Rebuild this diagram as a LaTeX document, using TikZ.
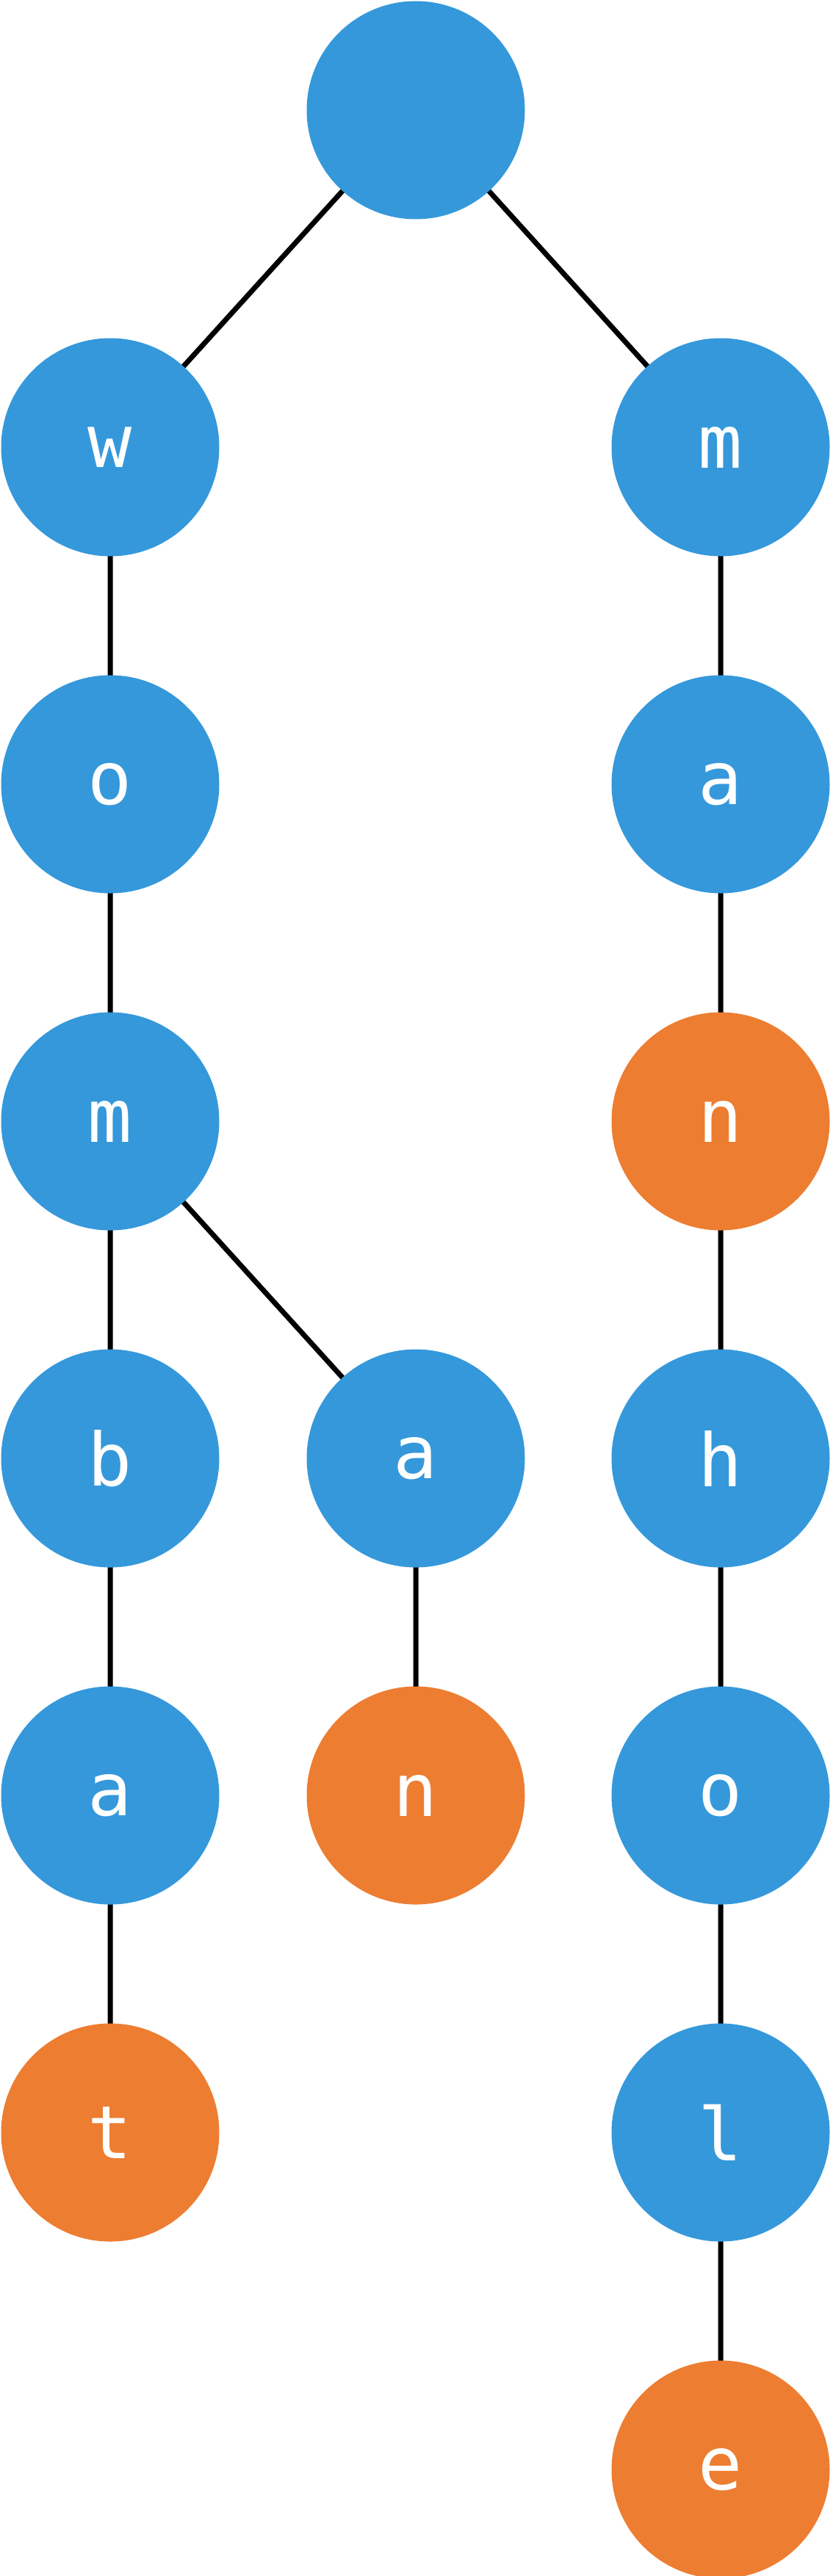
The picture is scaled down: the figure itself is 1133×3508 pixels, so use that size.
\documentclass[tikz,border=0pt]{standalone}
\usepackage{fontspec}
\newfontfamily\monof{DejaVu Sans Mono}
\definecolor{nblue}{HTML}{3598DB}
\definecolor{norange}{HTML}{ED7D31}
\begin{document}
\begin{tikzpicture}[x=1pt,y=-1pt,
  nd/.style={circle,fill=nblue,minimum size=297pt,inner sep=0pt,text=white,font=\monof\fontsize{100}{100}\selectfont},
  leaf/.style={nd,fill=norange},
  ed/.style={line width=7pt,black}]
\useasboundingbox (0,0) rectangle (1133,3508);
\def\ra{150}\def\rb{609}\def\rc{1068}\def\rd{1527}\def\re{1986}\def\rf{2445}\def\rg{2904}\def\rh{3363}
\coordinate (pr) at (566,\ra);
\coordinate (pw) at (150,\rb); \coordinate (po) at (150,\rc); \coordinate (pm) at (150,\rd);
\coordinate (pb) at (150,\re); \coordinate (pa) at (150,\rf); \coordinate (pt) at (150,\rg);
\coordinate (pa2) at (566,\re); \coordinate (pn2) at (566,\rf);
\coordinate (qm) at (981,\rb); \coordinate (qa) at (981,\rc); \coordinate (qn) at (981,\rd);
\coordinate (qh) at (981,\re); \coordinate (qo) at (981,\rf); \coordinate (ql) at (981,\rg); \coordinate (qe) at (981,\rh);
\draw[ed] (pr)--(pw) (pr)--(qm) (pw)--(po)--(pm)--(pb)--(pa)--(pt) (pm)--(pa2)--(pn2)
  (qm)--(qa)--(qn)--(qh)--(qo)--(ql)--(qe);
\node[nd] (r) at (pr) {};
\node[nd] (w) at (pw) {w};
\node[nd] (o) at (po) {o};
\node[nd] (m) at (pm) {m};
\node[nd] (b) at (pb) {b};
\node[nd] (a) at (pa) {a};
\node[leaf] (t) at (pt) {t};
\node[nd] (a2) at (pa2) {a};
\node[leaf] (n2) at (pn2) {n};
\node[nd] (m3) at (qm) {m};
\node[nd] (a3) at (qa) {a};
\node[leaf] (n3) at (qn) {n};
\node[nd] (h3) at (qh) {h};
\node[nd] (o3) at (qo) {o};
\node[nd] (l3) at (ql) {l};
\node[leaf] (e3) at (qe) {e};
\end{tikzpicture}
\end{document}
